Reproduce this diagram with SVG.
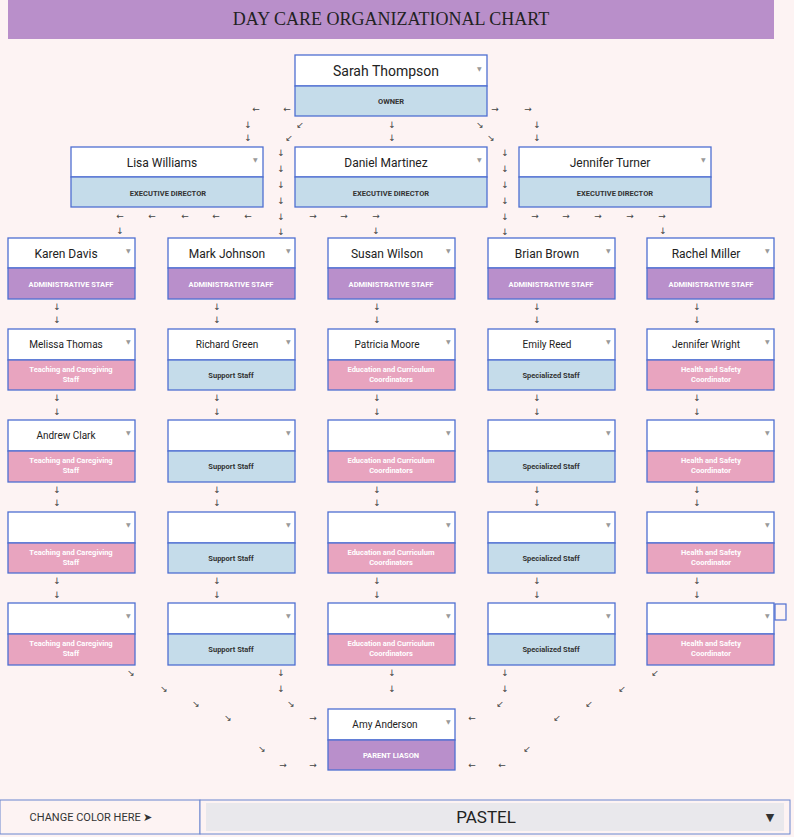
<svg xmlns="http://www.w3.org/2000/svg" width="794" height="837" viewBox="0 0 794 837">
<style>
.t{fill:#fff;stroke:#4f6fd1;stroke-width:1.3}
.b{fill:#c5dcea;stroke:#4f6fd1;stroke-width:1.3}
.p{fill:#e8a4bf;stroke:#4f6fd1;stroke-width:1.3}
.v{fill:#b98fcb;stroke:#4f6fd1;stroke-width:1.3}
.n{font-family:Roboto,"Liberation Sans",sans-serif;font-size:12px;fill:#222;text-anchor:middle}
.nb{font-size:14px}
.ns{font-size:10px}
.r{font-family:Roboto,"Liberation Sans",sans-serif;font-size:7.5px;font-weight:bold;text-anchor:middle;fill:#333}
.w{fill:#fff}
.dd{font-family:"DejaVu Sans",sans-serif;font-size:6px;fill:#999}
.a{font-family:"DejaVu Sans",sans-serif;font-size:9px;fill:#444;text-anchor:middle}
</style>
<rect width="794" height="837" fill="#fdf3f3"/>
<rect x="8" y="0" width="766" height="39" fill="#b98fca"/>
<text x="391" y="25" font-family="Liberation Serif,serif" font-size="18" text-anchor="middle" fill="#222">DAY CARE ORGANIZATIONAL CHART</text>

<g id="owner"><rect class="t" x="295" y="55" width="192" height="31"/><rect class="b" x="295" y="86" width="192" height="30"/><text class="n nb" x="386" y="76">Sarah Thompson</text><text class="dd" x="477" y="71">▼</text><text class="r" x="391" y="104">OWNER</text></g>

<g id="lisa"><rect class="t" x="71" y="147" width="192" height="30"/><rect class="b" x="71" y="177" width="192" height="30"/><text class="n" x="162" y="167">Lisa Williams</text><text class="dd" x="253" y="162">▼</text><text class="r" x="168" y="196">EXECUTIVE DIRECTOR</text></g>
<g id="daniel"><rect class="t" x="295" y="147" width="192" height="30"/><rect class="b" x="295" y="177" width="192" height="30"/><text class="n" x="386" y="167">Daniel Martinez</text><text class="dd" x="477" y="162">▼</text><text class="r" x="391" y="196">EXECUTIVE DIRECTOR</text></g>
<g id="jennifer"><rect class="t" x="519" y="147" width="192" height="30"/><rect class="b" x="519" y="177" width="192" height="30"/><text class="n" x="610" y="167">Jennifer Turner</text><text class="dd" x="701" y="162">▼</text><text class="r" x="615" y="196">EXECUTIVE DIRECTOR</text></g>

<g id="admin1"><rect class="t" x="8" y="238" width="127" height="30"/><rect class="v" x="8" y="268" width="127" height="31"/><text class="n" x="66" y="258">Karen Davis</text><text class="dd" x="126" y="253">▼</text><text class="r w" x="71" y="287">ADMINISTRATIVE STAFF</text></g>
<g id="admin2"><rect class="t" x="168" y="238" width="127" height="30"/><rect class="v" x="168" y="268" width="127" height="31"/><text class="n" x="227" y="258">Mark Johnson</text><text class="dd" x="286" y="253">▼</text><text class="r w" x="231" y="287">ADMINISTRATIVE STAFF</text></g>
<g id="admin3"><rect class="t" x="328" y="238" width="127" height="30"/><rect class="v" x="328" y="268" width="127" height="31"/><text class="n" x="387" y="258">Susan Wilson</text><text class="dd" x="446" y="253">▼</text><text class="r w" x="391" y="287">ADMINISTRATIVE STAFF</text></g>
<g id="admin4"><rect class="t" x="488" y="238" width="127" height="30"/><rect class="v" x="488" y="268" width="127" height="31"/><text class="n" x="547" y="258">Brian Brown</text><text class="dd" x="606" y="253">▼</text><text class="r w" x="551" y="287">ADMINISTRATIVE STAFF</text></g>
<g id="admin5"><rect class="t" x="647" y="238" width="127" height="30"/><rect class="v" x="647" y="268" width="127" height="31"/><text class="n" x="706" y="258">Rachel Miller</text><text class="dd" x="765" y="253">▼</text><text class="r w" x="711" y="287">ADMINISTRATIVE STAFF</text></g>

<g id="c1r1"><rect class="t" x="8" y="329" width="127" height="31"/><rect class="p" x="8" y="360" width="127" height="30"/><text class="n ns" x="66" y="348">Melissa Thomas</text><text class="dd" x="126" y="344">▼</text><text class="r w" x="71" y="372">Teaching and Caregiving</text><text class="r w" x="71" y="382">Staff</text></g>
<g id="c2r1"><rect class="t" x="168" y="329" width="127" height="31"/><rect class="b" x="168" y="360" width="127" height="30"/><text class="n ns" x="227" y="348">Richard Green</text><text class="dd" x="286" y="344">▼</text><text class="r" x="231" y="378">Support Staff</text></g>
<g id="c3r1"><rect class="t" x="328" y="329" width="127" height="31"/><rect class="p" x="328" y="360" width="127" height="30"/><text class="n ns" x="387" y="348">Patricia Moore</text><text class="dd" x="446" y="344">▼</text><text class="r w" x="391" y="372">Education and Curriculum</text><text class="r w" x="391" y="382">Coordinators</text></g>
<g id="c4r1"><rect class="t" x="488" y="329" width="127" height="31"/><rect class="b" x="488" y="360" width="127" height="30"/><text class="n ns" x="547" y="348">Emily Reed</text><text class="dd" x="606" y="344">▼</text><text class="r" x="551" y="378">Specialized Staff</text></g>
<g id="c5r1"><rect class="t" x="647" y="329" width="127" height="31"/><rect class="p" x="647" y="360" width="127" height="30"/><text class="n ns" x="706" y="348">Jennifer Wright</text><text class="dd" x="765" y="344">▼</text><text class="r w" x="711" y="372">Health and Safety</text><text class="r w" x="711" y="382">Coordinator</text></g>

<g id="c1r2"><rect class="t" x="8" y="420" width="127" height="31"/><rect class="p" x="8" y="451" width="127" height="31"/><text class="n ns" x="66" y="439">Andrew Clark</text><text class="dd" x="126" y="435">▼</text><text class="r w" x="71" y="463">Teaching and Caregiving</text><text class="r w" x="71" y="473">Staff</text></g>
<g id="c2r2"><rect class="t" x="168" y="420" width="127" height="31"/><rect class="b" x="168" y="451" width="127" height="31"/><text class="dd" x="286" y="435">▼</text><text class="r" x="231" y="469">Support Staff</text></g>
<g id="c3r2"><rect class="t" x="328" y="420" width="127" height="31"/><rect class="p" x="328" y="451" width="127" height="31"/><text class="dd" x="446" y="435">▼</text><text class="r w" x="391" y="463">Education and Curriculum</text><text class="r w" x="391" y="473">Coordinators</text></g>
<g id="c4r2"><rect class="t" x="488" y="420" width="127" height="31"/><rect class="b" x="488" y="451" width="127" height="31"/><text class="dd" x="606" y="435">▼</text><text class="r" x="551" y="469">Specialized Staff</text></g>
<g id="c5r2"><rect class="t" x="647" y="420" width="127" height="31"/><rect class="p" x="647" y="451" width="127" height="31"/><text class="dd" x="765" y="435">▼</text><text class="r w" x="711" y="463">Health and Safety</text><text class="r w" x="711" y="473">Coordinator</text></g>

<g id="c1r3"><rect class="t" x="8" y="512" width="127" height="31"/><rect class="p" x="8" y="543" width="127" height="30"/><text class="dd" x="126" y="527">▼</text><text class="r w" x="71" y="555">Teaching and Caregiving</text><text class="r w" x="71" y="565">Staff</text></g>
<g id="c2r3"><rect class="t" x="168" y="512" width="127" height="31"/><rect class="b" x="168" y="543" width="127" height="30"/><text class="dd" x="286" y="527">▼</text><text class="r" x="231" y="561">Support Staff</text></g>
<g id="c3r3"><rect class="t" x="328" y="512" width="127" height="31"/><rect class="p" x="328" y="543" width="127" height="30"/><text class="dd" x="446" y="527">▼</text><text class="r w" x="391" y="555">Education and Curriculum</text><text class="r w" x="391" y="565">Coordinators</text></g>
<g id="c4r3"><rect class="t" x="488" y="512" width="127" height="31"/><rect class="b" x="488" y="543" width="127" height="30"/><text class="dd" x="606" y="527">▼</text><text class="r" x="551" y="561">Specialized Staff</text></g>
<g id="c5r3"><rect class="t" x="647" y="512" width="127" height="31"/><rect class="p" x="647" y="543" width="127" height="30"/><text class="dd" x="765" y="527">▼</text><text class="r w" x="711" y="555">Health and Safety</text><text class="r w" x="711" y="565">Coordinator</text></g>

<g id="c1r4"><rect class="t" x="8" y="603" width="127" height="31"/><rect class="p" x="8" y="634" width="127" height="31"/><text class="dd" x="126" y="618">▼</text><text class="r w" x="71" y="646">Teaching and Caregiving</text><text class="r w" x="71" y="656">Staff</text></g>
<g id="c2r4"><rect class="t" x="168" y="603" width="127" height="31"/><rect class="b" x="168" y="634" width="127" height="31"/><text class="dd" x="286" y="618">▼</text><text class="r" x="231" y="652">Support Staff</text></g>
<g id="c3r4"><rect class="t" x="328" y="603" width="127" height="31"/><rect class="p" x="328" y="634" width="127" height="31"/><text class="dd" x="446" y="618">▼</text><text class="r w" x="391" y="646">Education and Curriculum</text><text class="r w" x="391" y="656">Coordinators</text></g>
<g id="c4r4"><rect class="t" x="488" y="603" width="127" height="31"/><rect class="b" x="488" y="634" width="127" height="31"/><text class="dd" x="606" y="618">▼</text><text class="r" x="551" y="652">Specialized Staff</text></g>
<g id="c5r4"><rect class="t" x="647" y="603" width="127" height="31"/><rect class="p" x="647" y="634" width="127" height="31"/><text class="dd" x="765" y="618">▼</text><text class="r w" x="711" y="646">Health and Safety</text><text class="r w" x="711" y="656">Coordinator</text></g>

<g id="amy"><rect class="t" x="328" y="709" width="127" height="31"/><rect class="v" x="328" y="740" width="127" height="30"/><text class="n ns" x="385" y="728">Amy Anderson</text><text class="dd" x="446" y="724">▼</text><text class="r w" x="391" y="758">PARENT LIASON</text></g>

<g id="connectors" class="a">
<text x="256" y="112">←</text><text x="287" y="112">←</text><text x="495" y="112">→</text><text x="528" y="112">→</text>
<text x="248" y="128">↓</text><text x="300" y="128">↙</text><text x="392" y="128">↓</text><text x="480" y="128">↘</text><text x="537" y="128">↓</text>
<text x="248" y="141">↓</text><text x="289" y="141">↙</text><text x="392" y="141">↓</text><text x="491" y="141">↘</text><text x="537" y="141">↓</text>
<text x="281" y="156">↓</text><text x="281" y="172">↓</text><text x="281" y="188">↓</text><text x="281" y="204">↓</text><text x="281" y="220">↓</text><text x="281" y="235">↓</text>
<text x="505" y="156">↓</text><text x="505" y="172">↓</text><text x="505" y="188">↓</text><text x="505" y="204">↓</text><text x="505" y="220">↓</text><text x="505" y="235">↓</text>
<text x="120" y="219">←</text><text x="152" y="219">←</text><text x="185" y="219">←</text><text x="216" y="219">←</text><text x="248" y="219">←</text>
<text x="313" y="219">→</text><text x="344" y="219">→</text><text x="376" y="219">→</text>
<text x="535" y="219">→</text><text x="566" y="219">→</text><text x="598" y="219">→</text><text x="630" y="219">→</text><text x="662" y="219">→</text>
<text x="120" y="234">↓</text><text x="376" y="234">↓</text><text x="663" y="234">↓</text>
<text x="57" y="310">↓</text><text x="57" y="323">↓</text><text x="217" y="310">↓</text><text x="217" y="323">↓</text><text x="377" y="310">↓</text><text x="377" y="323">↓</text><text x="537" y="310">↓</text><text x="537" y="323">↓</text><text x="697" y="310">↓</text><text x="697" y="323">↓</text>
<text x="57" y="401">↓</text><text x="57" y="415">↓</text><text x="217" y="401">↓</text><text x="217" y="415">↓</text><text x="377" y="401">↓</text><text x="377" y="415">↓</text><text x="537" y="401">↓</text><text x="537" y="415">↓</text><text x="697" y="401">↓</text><text x="697" y="415">↓</text>
<text x="57" y="493">↓</text><text x="57" y="506">↓</text><text x="217" y="493">↓</text><text x="217" y="506">↓</text><text x="377" y="493">↓</text><text x="377" y="506">↓</text><text x="537" y="493">↓</text><text x="537" y="506">↓</text><text x="697" y="493">↓</text><text x="697" y="506">↓</text>
<text x="57" y="584">↓</text><text x="57" y="598">↓</text><text x="217" y="584">↓</text><text x="217" y="598">↓</text><text x="377" y="584">↓</text><text x="377" y="598">↓</text><text x="537" y="584">↓</text><text x="537" y="598">↓</text><text x="697" y="584">↓</text><text x="697" y="598">↓</text>
<text x="131" y="676">↘</text><text x="164" y="692">↘</text><text x="196" y="707">↘</text><text x="228" y="721">↘</text><text x="262" y="752">↘</text>
<text x="281" y="676">↓</text><text x="281" y="692">↓</text><text x="291" y="707">↘</text><text x="392" y="676">↓</text><text x="392" y="692">↓</text>
<text x="505" y="676">↓</text><text x="505" y="692">↓</text><text x="500" y="707">↙</text>
<text x="655" y="676">↙</text><text x="622" y="692">↙</text><text x="589" y="707">↙</text><text x="557" y="721">↙</text><text x="527" y="752">↙</text>
<text x="313" y="721">→</text><text x="472" y="721">←</text>
<text x="283" y="768">→</text><text x="313" y="768">→</text><text x="472" y="768">←</text><text x="502" y="768">←</text>
</g>

<rect x="0" y="800" width="200" height="34" fill="#fdf3f3" stroke="#6b86cf" stroke-width="1"/>
<rect x="200" y="800" width="590" height="34" fill="#fdf3f3" stroke="#6b86cf" stroke-width="1"/>
<rect x="206" y="803" width="578" height="28" fill="#e9e8ec"/>
<text x="91" y="821" font-family="Roboto,'Liberation Sans',sans-serif" font-size="11" text-anchor="middle" fill="#333">CHANGE COLOR HERE ➤</text>
<text x="486" y="823" font-family="Roboto,'Liberation Sans',sans-serif" font-size="17" text-anchor="middle" fill="#222">PASTEL</text>
<text x="770" y="821" font-family="DejaVu Sans,sans-serif" font-size="11" text-anchor="middle" fill="#333">▼</text>
<rect x="775" y="604" width="11" height="16" fill="none" stroke="#4f6fd1" stroke-width="1.2"/>
</svg>
